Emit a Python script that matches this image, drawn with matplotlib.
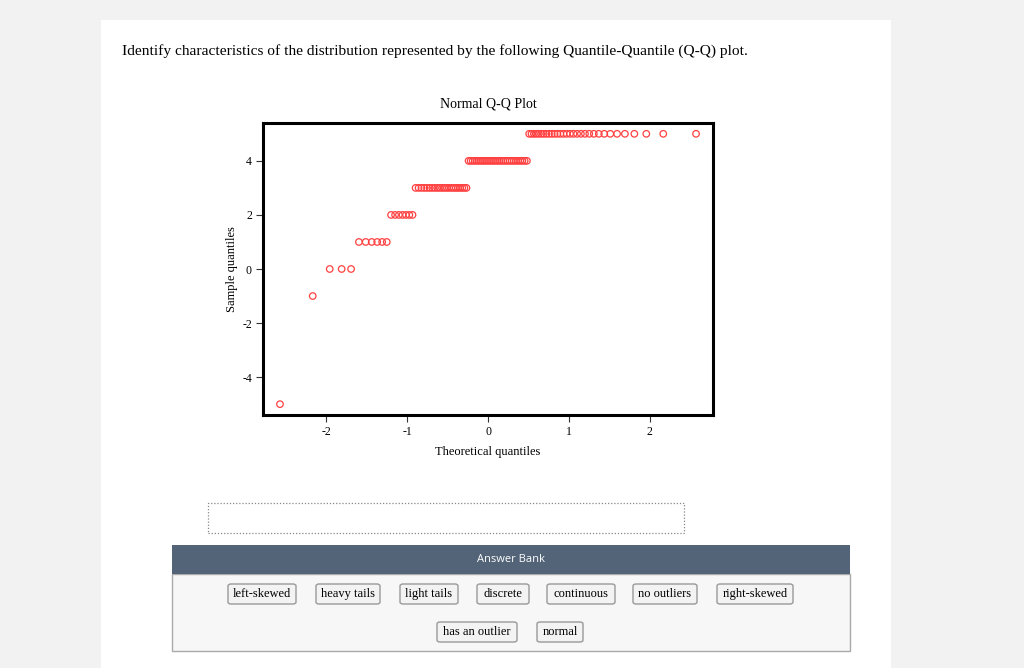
import matplotlib
matplotlib.use("Agg")
import matplotlib.pyplot as plt
from matplotlib.patches import Rectangle, FancyBboxPatch
from statistics import NormalDist
import numpy as np

sample_values = [-5, -1, 0, 1, 2, 3, 4, 5]
sample_counts = [1, 1, 3, 6, 7, 22, 29, 31]

x_ticks = [-2, -1, 0, 1, 2]
y_ticks = [-4, -2, 0, 2, 4]

question = ("Identify characteristics of the distribution represented by the "
            "following Quantile-Quantile (Q-Q) plot.")
answers_row1 = ["left-skewed", "heavy tails", "light tails", "discrete",
                "continuous", "no outliers", "right-skewed"]
answers_row2 = ["has an outlier", "normal"]

SERIF = "Liberation Serif"
W, H = 1024, 668


def fx(x):
    return x / W


def fy(y):
    return 1 - y / H


# sorted sample + normal theoretical quantiles (R ppoints, n > 10)
sample = np.repeat(sample_values, sample_counts)
n = len(sample)
theo = np.array([NormalDist().inv_cdf((i - 0.5) / n) for i in range(1, n + 1)])

fig = plt.figure(figsize=(W / 100, H / 100), dpi=100)
fig.patch.set_facecolor("#f2f2f2")

# white page panel (behind the axes)
fig.patches.append(Rectangle((fx(101), fy(668)), fx(790), 648 / H,
                             transform=fig.transFigure, facecolor="white",
                             edgecolor="none", zorder=-5))

fig.text(fx(122), fy(51), question, fontsize=11.05, family=SERIF,
         va="center", ha="left")

# --- Q-Q plot ---
ax = fig.add_axes([fx(263), fy(415), fx(450), 292 / H])
ax.set_zorder(2)
ax.scatter(theo, sample, s=22, facecolors="none", edgecolors="#ff4040",
           linewidths=0.9, zorder=3)
ax.set_xlim(-2.786, 2.786)
ax.set_ylim(-5.4, 5.4)
ax.set_xticks(x_ticks)
ax.set_yticks(y_ticks)
ax.set_xticklabels([str(t) for t in x_ticks], family=SERIF, fontsize=8.5)
ax.set_yticklabels([str(t) for t in y_ticks], family=SERIF, fontsize=8.5)
ax.tick_params(length=5, width=0.8, color="#333333", pad=3)
for sp in ax.spines.values():
    sp.set_linewidth(2.2)
ax.set_title("Normal Q-Q Plot", family=SERIF, fontsize=10, pad=11)
ax.set_xlabel("Theoretical quantiles", family=SERIF, fontsize=9, labelpad=6)
ax.set_ylabel("Sample quantiles", family=SERIF, fontsize=9, labelpad=3)

# --- dotted drop box ---
fig.patches.append(Rectangle((fx(208), fy(533)), fx(476), 30 / H,
                             transform=fig.transFigure, facecolor="white",
                             edgecolor="#888888", linestyle=(0, (1, 1.5)),
                             linewidth=0.9))

# --- answer bank ---
fig.patches.append(Rectangle((fx(172), fy(651)), fx(678), 77 / H,
                             transform=fig.transFigure, facecolor="#f7f7f7",
                             edgecolor="#aaaaaa", linewidth=1))
fig.patches.append(Rectangle((fx(172), fy(574)), fx(678), 29 / H,
                             transform=fig.transFigure, facecolor="#536478",
                             edgecolor="none"))
fig.text(fx(511), fy(560), "Answer Bank", color="white", fontsize=8,
         family="Open Sans", ha="center", va="center")

row1_x = [(228, 296), (316, 380), (400, 458), (477, 529), (547, 615),
          (633, 697), (717, 793)]
row2_x = [(437, 517), (537, 583)]


def button(x0, x1, yc, label):
    fig.patches.append(FancyBboxPatch((fx(x0), fy(yc + 10)), fx(x1 - x0), 20 / H,
                                      boxstyle="round,pad=0,rounding_size=0.003",
                                      transform=fig.transFigure,
                                      facecolor="#f3f3f3", edgecolor="#999999",
                                      linewidth=1))
    fig.text(fx((x0 + x1) / 2), fy(yc), label, family=SERIF, fontsize=9,
             ha="center", va="center")


for (x0, x1), lab in zip(row1_x, answers_row1):
    button(x0, x1, 594, lab)
for (x0, x1), lab in zip(row2_x, answers_row2):
    button(x0, x1, 632, lab)

fig.savefig("out.png", dpi=100)
